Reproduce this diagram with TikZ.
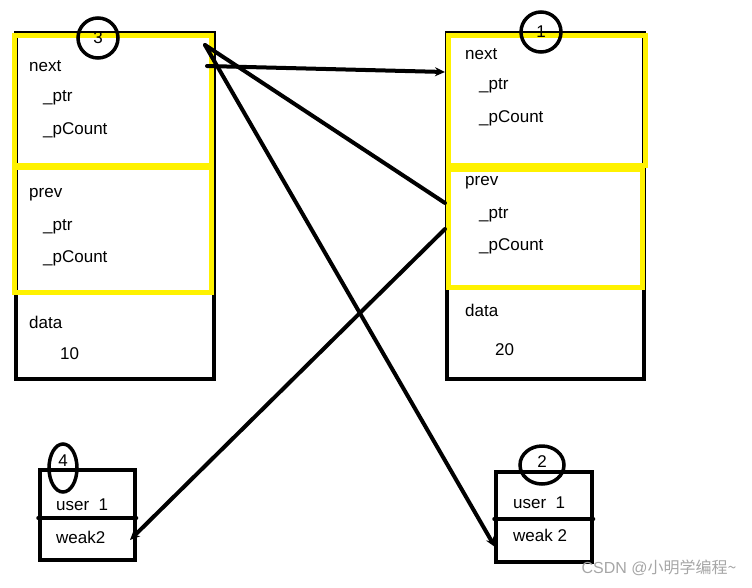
\documentclass[tikz,border=0pt]{standalone}
\usepackage{fontspec}
\setmainfont{Liberation Sans}
\usetikzlibrary{arrows.meta}
\begin{document}
\begin{tikzpicture}[x=1pt,y=-1pt,
  blk/.style={draw=black,line width=3.5pt,inner sep=0pt,anchor=north west},
  ylw/.style={draw=yellow,line width=4.5pt,inner sep=0pt,anchor=north west},
  lbl/.style={anchor=west,inner sep=0pt,font=\fontsize{17}{19}\selectfont},
  wire/.style={line width=4pt,line cap=round},
  tip/.style={wire,-{Stealth[length=10pt,width=9pt]}}]
\useasboundingbox (0,0) rectangle (752,587);
% left node 3
\node[blk,minimum width=198pt,minimum height=346pt] (L) at (14,31) {};
\node[ylw,minimum width=197pt,minimum height=130pt] (Ln) at (12,33) {};
\node[ylw,minimum width=197pt,minimum height=125pt] (Lp) at (12,165) {};
\node[draw,line width=3.5pt,circle,minimum width=40pt,inner sep=0pt,font=\fontsize{17}{19}\selectfont] (c3) at (98,38) {3};
\node[lbl] (l1) at (29,66) {next};
\node[lbl] (l2) at (43,98) {\_ptr};
\node[lbl] (l3) at (43,130) {\_pCount};
\node[lbl] (l4) at (29,195) {prev};
\node[lbl] (l5) at (43,227) {\_ptr};
\node[lbl] (l6) at (43,258) {\_pCount};
\node[lbl] (l7) at (29,322) {data};
\node[lbl] (l8) at (60,354) {10};
% right node 1
\node[blk,minimum width=197pt,minimum height=346pt] (R) at (445,31) {};
\node[ylw,minimum width=197pt,minimum height=130pt] (Rn) at (446,33) {};
\node[ylw,minimum width=194pt,minimum height=118pt] (Rp) at (446,167) {};
\node[draw,line width=3.5pt,circle,minimum width=40pt,inner sep=0pt,font=\fontsize{17}{19}\selectfont] (c1) at (541,32) {1};
\node[lbl] (r1) at (465,54) {next};
\node[lbl] (r2) at (479,86) {\_ptr};
\node[lbl] (r3) at (479,118) {\_pCount};
\node[lbl] (r4) at (465,183) {prev};
\node[lbl] (r5) at (479,215) {\_ptr};
\node[lbl] (r6) at (479,246) {\_pCount};
\node[lbl] (r7) at (465,310) {data};
\node[lbl] (r8) at (495,350) {20};
% node 4
\node[blk,minimum width=95pt,minimum height=90pt] (B4) at (38,468) {};
\draw[line width=3.5pt,line cap=round] (B4.west |- 0,518) coordinate (d4a) -- (B4.east |- 0,518) coordinate (d4b);
\draw[line width=3.5pt] (63,468) ellipse (14pt and 24pt);
\node[font=\fontsize{17}{19}\selectfont] (n4) at (63,461) {4};
\node[lbl] (u4) at (56,505) {user\ \ 1};
\node[lbl] (w4) at (56,537) {weak2};
% node 2
\node[blk,minimum width=96pt,minimum height=90pt] (B2) at (494,470) {};
\draw[line width=3.5pt,line cap=round] (B2.west |- 0,519) -- (B2.east |- 0,519);
\draw[line width=3.5pt] (542,465) ellipse (22pt and 19pt);
\node[font=\fontsize{17}{19}\selectfont] (n2) at (542,462) {2};
\node[lbl] (u2) at (513,503) {user\ \ 1};
\node[lbl] (w2) at (513,535) {weak 2};
% connectors
\coordinate (a) at (205,45);
\coordinate (b) at (207,66);
\coordinate (rp) at (445,203);
\coordinate (rq) at (445,229);
\coordinate (rn) at (445,72);
\coordinate (w2t) at (495,547);
\coordinate (w4t) at (130,540);
\draw[wire] (a) -- (rp);
\draw[tip] (b) -- (rn);
\draw[tip] (a) -- (w2t);
\draw[tip] (rq) -- (w4t);
\node[anchor=east,text=black!35,font=\fontsize{16}{18}\selectfont] (wm) at (740,568) {CSDN @\fontspec{Noto Sans CJK SC}小明学编程\textasciitilde};
\end{tikzpicture}
\end{document}
